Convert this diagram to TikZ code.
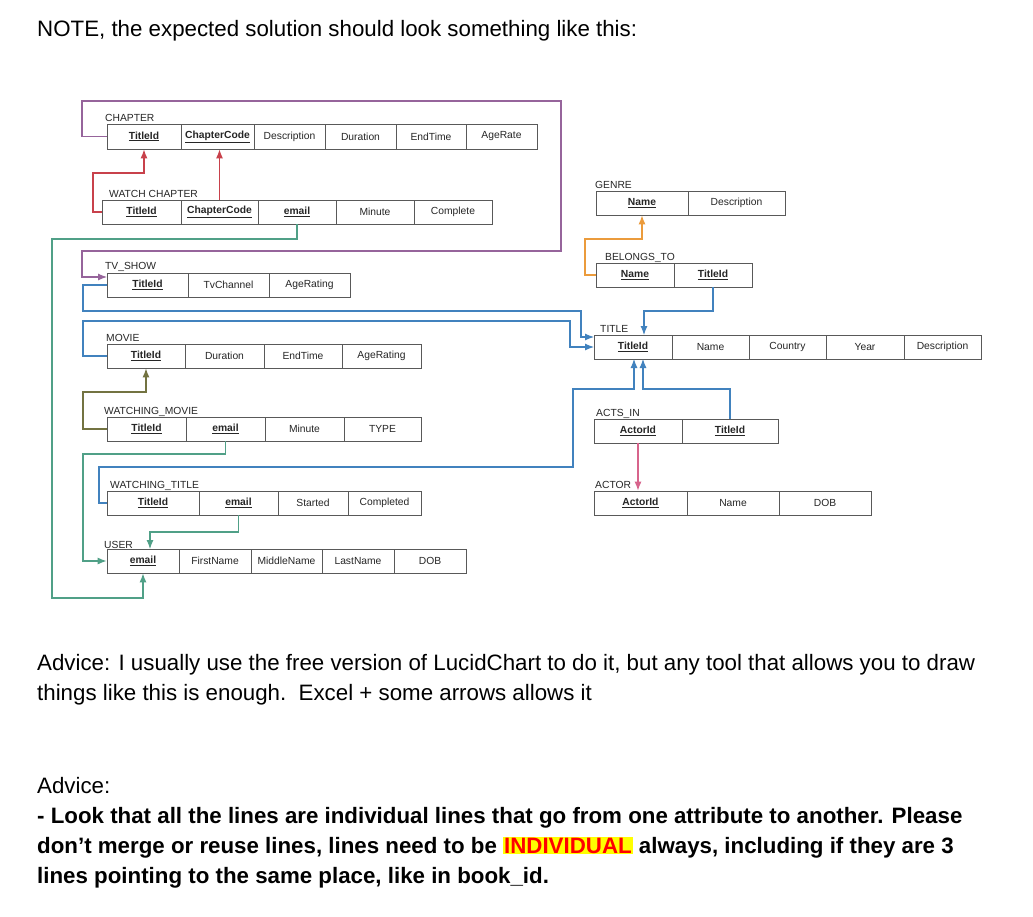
\documentclass[tikz,border=0pt]{standalone}
\usepackage{fontspec}
\setmainfont{Liberation Sans}
\usetikzlibrary{arrows.meta}
\definecolor{cpur}{RGB}{150,100,155}
\definecolor{cred}{RGB}{200,65,75}
\definecolor{cgrn}{RGB}{80,160,135}
\definecolor{cblu}{RGB}{65,130,190}
\definecolor{coli}{RGB}{115,115,65}
\definecolor{cora}{RGB}{235,155,60}
\definecolor{cpnk}{RGB}{215,100,140}
\definecolor{hil}{RGB}{255,255,0}
\newcommand\ecell[6]{\node[cellbox,minimum width={(#3-#2)*1pt},minimum height={(#5-#4)*1pt}] (#1) at ({(#2+#3)/2},{(#4+#5)/2}) {#6};}
\newcommand\kk[1]{\underline{\textbf{#1}}}
\tikzset{cellbox/.style={draw=black!65,line width=0.8pt,inner sep=0pt,font=\fontsize{10.3}{12}\selectfont,text=black!85},
 tlabel/.style={anchor=base west,inner sep=0pt,font=\fontsize{10.3}{12}\selectfont,text=black!85},
 conn/.style={line width=1.1pt,-{Latex[length=9pt,width=7pt]}},
 big/.style={anchor=base west,inner sep=0pt,font=\fontsize{22.3}{26}\selectfont,align=left}}
\begin{document}
\begin{tikzpicture}[x=1pt,y=-1pt]
\fill[white] (0,0) rectangle (1033,916);
\node[big] (note) at (37,36) {NOTE, the expected solution should look something like this:};
% CHAPTER
\node[tlabel] (lch) at (105,121) {CHAPTER};
\ecell{ch1}{107}{181}{124}{149}{\kk{TitleId}}
\ecell{ch2}{181}{254}{124}{149}{\kk{ChapterCode}}
\ecell{ch3}{254}{325}{124}{149}{Description}
\ecell{ch4}{325}{396}{124}{149}{Duration}
\ecell{ch5}{396}{466}{124}{149}{EndTime}
\ecell{ch6}{466}{537}{124}{149}{AgeRate}
% WATCH CHAPTER
\node[tlabel] (lwc) at (109,197) {WATCH CHAPTER};
\ecell{wc1}{102}{181}{200}{224}{\kk{TitleId}}
\ecell{wc2}{181}{258}{200}{224}{\kk{ChapterCode}}
\ecell{wc3}{258}{336}{200}{224}{\kk{email}}
\ecell{wc4}{336}{414}{200}{224}{Minute}
\ecell{wc5}{414}{492}{200}{224}{Complete}
% TV_SHOW
\node[tlabel] (ltv) at (105,269) {TV\_SHOW};
\ecell{tv1}{107}{188}{273}{297}{\kk{TitleId}}
\ecell{tv2}{188}{269}{273}{297}{TvChannel}
\ecell{tv3}{269}{350}{273}{297}{AgeRating}
% MOVIE
\node[tlabel] (lmv) at (106,341) {MOVIE};
\ecell{mv1}{107}{185}{344}{368}{\kk{TitleId}}
\ecell{mv2}{185}{264}{344}{368}{Duration}
\ecell{mv3}{264}{342}{344}{368}{EndTime}
\ecell{mv4}{342}{421}{344}{368}{AgeRating}
% WATCHING_MOVIE
\node[tlabel] (lwm) at (104,414) {WATCHING\_MOVIE};
\ecell{wm1}{107}{186}{417}{441}{\kk{TitleId}}
\ecell{wm2}{186}{265}{417}{441}{\kk{email}}
\ecell{wm3}{265}{344}{417}{441}{Minute}
\ecell{wm4}{344}{421}{417}{441}{TYPE}
% WATCHING_TITLE
\node[tlabel] (lwt) at (110,488) {WATCHING\_TITLE};
\ecell{wt1}{107}{199}{491}{515}{\kk{TitleId}}
\ecell{wt2}{199}{278}{491}{515}{\kk{email}}
\ecell{wt3}{278}{348}{491}{515}{Started}
\ecell{wt4}{348}{421}{491}{515}{Completed}
% USER
\node[tlabel] (lus) at (104,548) {USER};
\ecell{us1}{107}{179}{549}{573}{\kk{email}}
\ecell{us2}{179}{251}{549}{573}{FirstName}
\ecell{us3}{251}{322}{549}{573}{MiddleName}
\ecell{us4}{322}{394}{549}{573}{LastName}
\ecell{us5}{394}{466}{549}{573}{DOB}
% GENRE
\node[tlabel] (lge) at (595,188) {GENRE};
\ecell{ge1}{596}{688}{191}{215}{\kk{Name}}
\ecell{ge2}{688}{785}{191}{215}{Description}
% BELONGS_TO
\node[tlabel] (lbt) at (605,260) {BELONGS\_TO};
\ecell{bt1}{596}{674}{263}{287}{\kk{Name}}
\ecell{bt2}{674}{752}{263}{287}{\kk{TitleId}}
% TITLE
\node[tlabel] (lti) at (600,332) {TITLE};
\ecell{ti1}{594}{672}{335}{359}{\kk{TitleId}}
\ecell{ti2}{672}{749}{335}{359}{Name}
\ecell{ti3}{749}{826}{335}{359}{Country}
\ecell{ti4}{826}{904}{335}{359}{Year}
\ecell{ti5}{904}{981}{335}{359}{Description}
% ACTS_IN
\node[tlabel] (lai) at (596,416) {ACTS\_IN};
\ecell{ai1}{594}{682}{419}{443}{\kk{ActorId}}
\ecell{ai2}{682}{778}{419}{443}{\kk{TitleId}}
% ACTOR
\node[tlabel] (lac) at (595,488) {ACTOR};
\ecell{ac1}{594}{687}{491}{515}{\kk{ActorId}}
\ecell{ac2}{687}{779}{491}{515}{Name}
\ecell{ac3}{779}{871}{491}{515}{DOB}
% connectors
\coordinate (tvin) at (107,277);
\coordinate (tiA) at (594,337);
\coordinate (tiB) at (594,347);
\draw[conn,cpur] (ch1.west) -| (82,101) -| (561,251) -| (82,277) -- (tvin);
\draw[conn,cred] (wc1.west) -| (93,173) -| (ch1.south);
\draw[conn,cred] (wc2.north) -- (wc2.north|-ch2.south);
\draw[conn,cgrn] (wc3.south) |- (52,239) -- (52,598) -| (us1.south);
\draw[conn,cblu] (tv1.west) -| (83,311) -| (581,337) -- (tiA);
\draw[conn,cblu] (mv1.west) -| (83,321) -| (570,347) -- (tiB);
\draw[conn,coli] (wm1.west) -| (83,392) -| (mv1.south);
\draw[conn,cgrn] (wm2.south) |- (83,454) |- (us1.west);
\draw[conn,cblu] (wt1.west) -| (99,467) -| (573,389) -| (634,359);
\draw[conn,cgrn] (wt2.south) |- (150,532) -- (150,549);
\draw[conn,cora] (bt1.west) -| (585,239) -| (ge1.south);
\draw[conn,cblu] (bt2.south) |- (644,311) -- (644,335);
\draw[conn,cblu] (ai2.north) |- (643,389) -- (643,359);
\draw[conn,cpnk] (ai1.south) -- (ai1.south|-ac1.north);
% advice
\node[big] (adv1) at (37,670) {Advice: I usually use the free version of LucidChart to do it, but any tool that allows you to draw};
\node[big] (adv2) at (37,700) {things like this is enough.\ \ Excel + some arrows allows it};
\node[big] (adv3) at (37,793) {Advice:};
\node[big,font=\fontsize{22.3}{26}\selectfont\bfseries] (adv4) at (37,823) {- Look that all the lines are individual lines that go from one attribute to another. Please};
\node[big,font=\fontsize{22.3}{26}\selectfont\bfseries] (adv5) at (37,853) {don’t merge or reuse lines, lines need to be {\setlength{\fboxsep}{1pt}\colorbox{hil}{\textcolor{red}{INDIVIDUAL}}} always, including if they are 3};
\node[big,font=\fontsize{22.3}{26}\selectfont\bfseries] (adv6) at (37,883) {lines pointing to the same place, like in book\_id.};
\end{tikzpicture}
\end{document}
